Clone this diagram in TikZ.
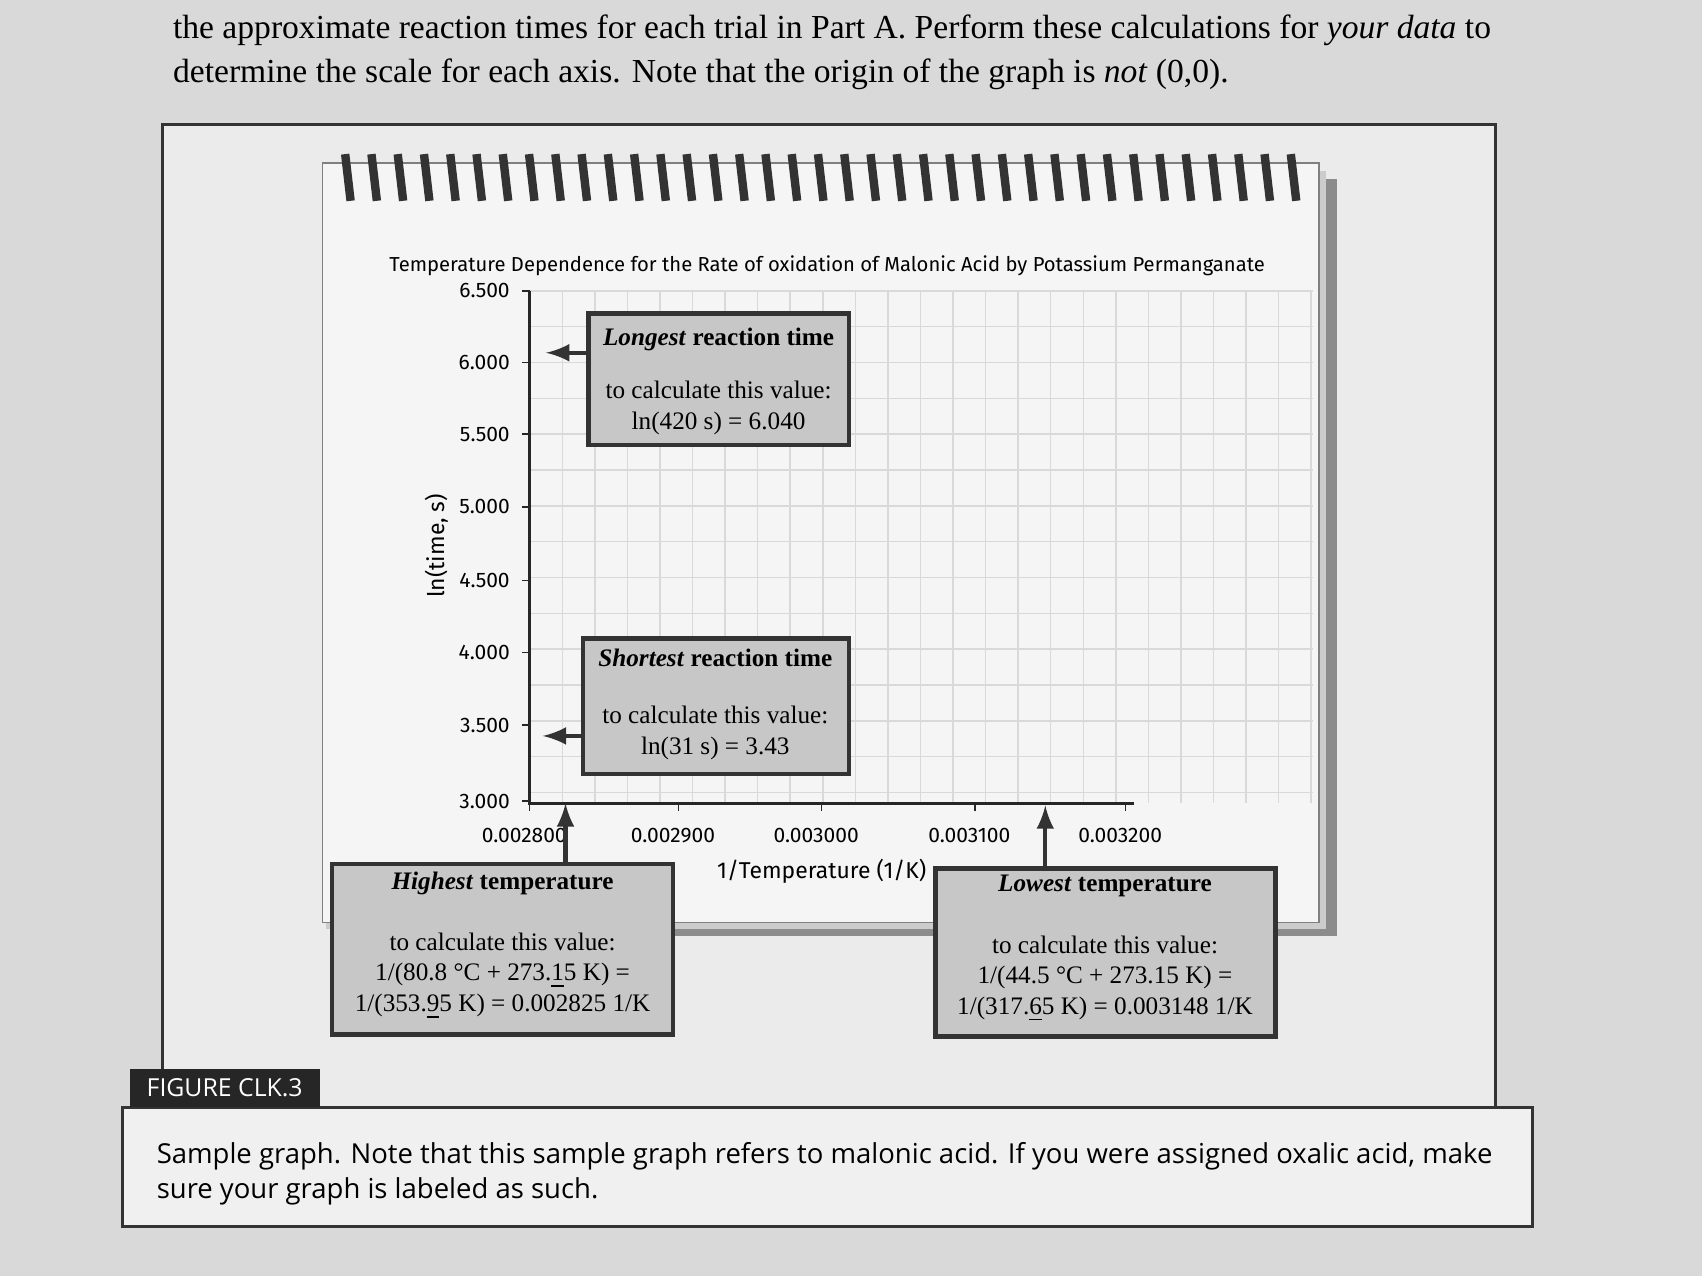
\documentclass[tikz,border=0pt]{standalone}
\usepackage{fontspec}
\setmainfont{Liberation Serif}
\newfontfamily\capfont{Open Sans}
\newfontfamily\hand{Fira Sans}
\begin{document}
\begin{tikzpicture}[x=0.01cm,y=-0.01cm,
 callout/.style={draw=black!80,line width=1.2pt,fill=black!22},
 ctext/.style={font=\fontsize{6.6}{8}\selectfont,align=center},
 tick/.style={font=\hand\fontsize{5.5}{6}\selectfont,anchor=east},
 xtick/.style={font=\hand\fontsize{5.5}{6}\selectfont},
 arr/.style={-latex,line width=1.1pt,black!80}]
\useasboundingbox (0,0) rectangle (1568,1176);
\fill[black!15] (0,0) rectangle (1568,1176);
\fill[black!8] (150,115) rectangle (1378,1020);
\draw[black!80,line width=0.8pt] (150,990) -- (150,115) -- (1378,115) -- (1378,1020);
\node[anchor=west,font=\fontsize{8.8}{11}\selectfont] (t1) at (147,28) {the approximate reaction times for each trial in Part A. Perform these calculations for \textit{your data} to};
\node[anchor=west,font=\fontsize{8.8}{11}\selectfont] (t2) at (147,68) {determine the scale for each axis. Note that the origin of the graph is \textit{not} (0,0).};
% notebook
\fill[black!45] (305,165) rectangle (1232,862);
\fill[black!20] (300,158) rectangle (1222,856);
\fill[black!4] (297,150) rectangle (1215,850);
\draw[black!50] (297,150) rectangle (1215,850);
\foreach \i in {0,...,36} \draw[black!80,line width=2.2pt] (318+\i*24.2,142) -- (323+\i*24.2,185);
% grid
\foreach \x in {488,518,...,1210} \draw[black!15,line width=0.4pt] (\x,268) -- (\x,740);
\foreach \y in {268,301,...,740} \draw[black!15,line width=0.4pt] (488,\y) -- (1210,\y);
\node[font=\hand\fontsize{5.3}{6}\selectfont] (title) at (762,245) {Temperature Dependence for the Rate of oxidation of Malonic Acid by Potassium Permanganate};
\draw[black!85,line width=0.9pt] (488,268) -- (488,740) -- (1045,740);
\foreach \v/\y in {6.500/268,6.000/334,5.500/400,5.000/467,4.500/535,4.000/601,3.500/668,3.000/738}{
 \draw[black!85] (481,\y) -- (488,\y); \node[tick] at (482,\y) {\v};}
\foreach \v/\x in {0.002800/488,0.002900/625,0.003000/757,0.003100/898,0.003200/1037}{
 \draw[black!85] (\x,740) -- (\x,747); \node[xtick] at (\x-5,770) {\v};}
\node[font=\hand\fontsize{6}{7}\selectfont] (xl) at (757,803) {1/Temperature (1/K)};
\node[font=\hand\fontsize{6}{7}\selectfont,rotate=90] (yl) at (402,503) {ln(time, s)};
% callouts
\path[callout] (542,289) rectangle (782,410);
\node[ctext] (lot) at (662,351) {\textbf{\textit{Longest} reaction time}\\[6pt]to calculate this value:\\ln(420 s) = 6.040};
\coordinate (la) at (542,325); \coordinate (lb) at (503,325);
\draw[arr] (la) -- (lb);
\path[callout] (537,588) rectangle (782,713);
\node[ctext] (sh) at (659,649) {\textbf{\textit{Shortest} reaction time}\\[7pt]to calculate this value:\\ln(31 s) = 3.43};
\coordinate (sa) at (537,678); \coordinate (sb) at (500,678);
\draw[arr] (sa) -- (sb);
\path[callout] (306,796) rectangle (620,953);
\node[ctext] (hi) at (463,871) {\textbf{\textit{Highest} temperature}\\[8pt]to calculate this value:\\1/(80.8 °C + 273.\underline{1}5 K) =\\1/(353.\underline{9}5 K) = 0.002825 1/K};
\coordinate (ha) at (521,796); \coordinate (hb) at (521,740);
\draw[arr] (ha) -- (hb);
\path[callout] (862,800) rectangle (1175,955);
\node[ctext] (lw) at (1018,874) {\textbf{\textit{Lowest} temperature}\\[8pt]to calculate this value:\\1/(44.5 °C + 273.15 K) =\\1/(317.\underline{6}5 K) = 0.003148 1/K};
\coordinate (wa) at (963,800); \coordinate (wb) at (963,742);
\draw[arr] (wa) -- (wb);
% caption
\fill[black!6] (113,1020) rectangle (1412,1130);
\draw[black!80,line width=0.8pt] (113,1020) rectangle (1412,1130);
\fill[black!85] (120,985) rectangle (295,1020);
\node[text=white,font=\capfont\fontsize{6.5}{7}\selectfont] (fig) at (207,1002) {FIGURE CLK.3};
\node[anchor=north west,align=left,font=\capfont\fontsize{7.2}{9.3}\selectfont] (cap) at (132,1040) {Sample graph. Note that this sample graph refers to malonic acid. If you were assigned oxalic acid, make\\sure your graph is labeled as such.};
\end{tikzpicture}
\end{document}
